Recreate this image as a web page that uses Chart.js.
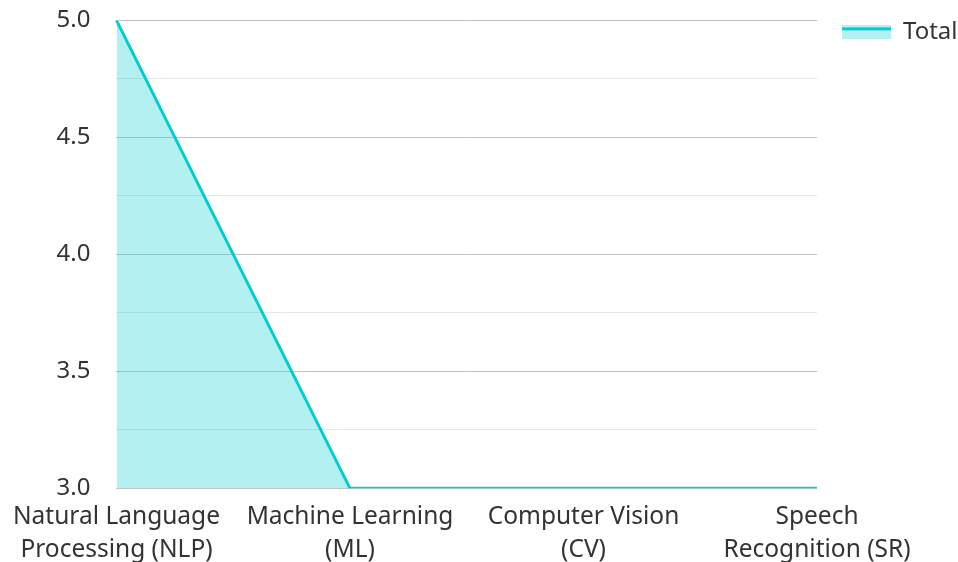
<!DOCTYPE html>
<html>
<head>
<meta charset="utf-8">
<script src="https://cdn.jsdelivr.net/npm/chart.js@4"></script>
<style>
html,body{margin:0;padding:0;background:#fff;}
#wrap{width:958px;height:562px;position:relative;}
</style>
</head>
<body>
<div id="wrap"><canvas id="c"></canvas></div>
<script>
const categories = [
  ["Natural Language", "Processing (NLP)"],
  ["Machine Learning", "(ML)"],
  ["Computer Vision", "(CV)"],
  ["Speech", "Recognition (SR)"]
];
const totalValues = [5, 3, 3, 3];
const seriesName = "Total";
const yMin = 3, yMax = 5, yStep = 0.25;

const LINE = "#00CED1";
const FILL = "rgba(0,206,209,0.3)";
const FONT = "'Noto Sans', 'Open Sans', sans-serif";

const legendLinePlugin = {
  id: 'legendLine',
  afterDraw(chart) {
    const lg = chart.legend;
    if (!lg || !lg.legendHitBoxes || !lg.legendHitBoxes.length) return;
    const hb = lg.legendHitBoxes[0];
    const ctx = chart.ctx;
    const bw = lg.options.labels.boxWidth;
    const bh = lg.options.labels.boxHeight;
    const font = Chart.helpers.toFont(lg.options.labels.font);
    const y = hb.top + (font.lineHeight - bh) / 2;
    ctx.save();
    ctx.fillStyle = LINE;
    ctx.fillRect(hb.left, y, bw, 3);
    ctx.restore();
  }
};

new Chart(document.getElementById('c'), {
  type: 'line',
  data: {
    labels: categories,
    datasets: [{
      label: seriesName,
      data: totalValues,
      borderColor: LINE,
      backgroundColor: FILL,
      borderWidth: 3,
      fill: 'origin',
      pointRadius: 0,
      tension: 0
    }]
  },
  options: {
    responsive: true,
    maintainAspectRatio: false,
    animation: false,
    layout: { padding: { left: 17, right: 0, top: -20, bottom: 0 } },
    plugins: {
      legend: {
        position: 'right',
        align: 'start',
        maxWidth: 141,
        title: {
          display: true,
          text: ' ',
          font: { size: 1, lineHeight: 1 },
          padding: { top: 14, bottom: 0 }
        },
        labels: {
          boxWidth: 49,
          boxHeight: 14,
          padding: 25,
          color: '#333',
          font: { family: FONT, size: 24 },
          generateLabels(chart) {
            return [{
              text: seriesName,
              fillStyle: FILL,
              strokeStyle: 'rgba(0,0,0,0)',
              lineWidth: 0,
              datasetIndex: 0,
              fontColor: '#333'
            }];
          }
        }
      },
      tooltip: { enabled: false }
    },
    scales: {
      x: {
        offset: false,
        grid: { display: false, drawTicks: false },
        border: { display: false },
        afterFit(scale) { scale.height -= 17; },
        ticks: {
          color: '#333',
          padding: 13,
          maxRotation: 0,
          autoSkip: false,
          font: { family: FONT, size: 24.5, lineHeight: 1.32 }
        }
      },
      y: {
        min: yMin,
        max: yMax,
        border: { display: false },
        grid: {
          drawTicks: true,
          tickLength: 20,
          tickColor: 'rgba(0,0,0,0)',
          lineWidth: 1,
          color(ctx) {
            const v = ctx.tick ? ctx.tick.value : 0;
            return Math.abs((v * 2) - Math.round(v * 2)) < 1e-6 ? '#c4c4c4' : '#e6e6e6';
          }
        },
        ticks: {
          stepSize: yStep,
          padding: 6,
          color: '#333',
          font: { family: FONT, size: 24 },
          callback(v) {
            return Math.abs((v * 2) - Math.round(v * 2)) < 1e-6 ? Number(v).toFixed(1) : '';
          }
        }
      }
    }
  },
  plugins: [legendLinePlugin]
});
</script>
</body>
</html>
